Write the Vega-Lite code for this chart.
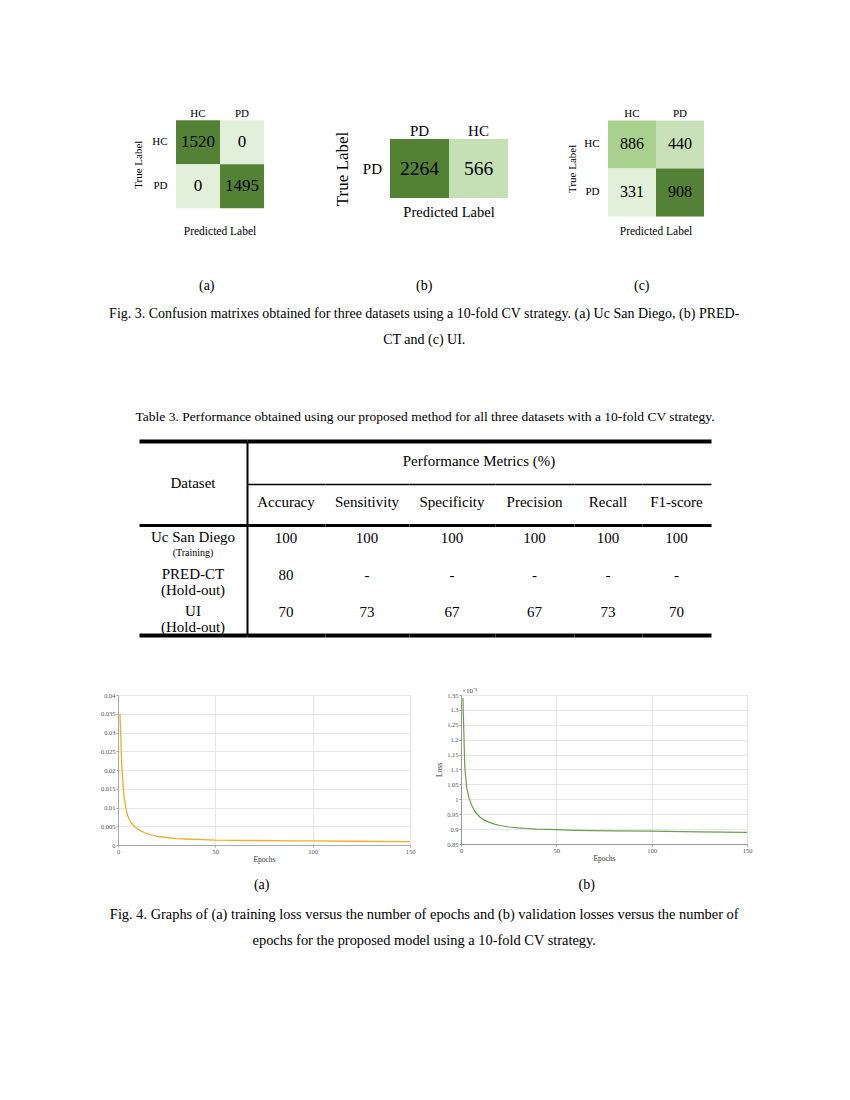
{
  "$schema": "https://vega.github.io/schema/vega-lite/v6.json",
  "background": "white",
  "padding": {"left": 99, "top": 107, "right": 5, "bottom": 5},
  "config": {
    "font": "Liberation Serif",
    "view": {"stroke": null},
    "axis": {"labelFont": "Liberation Serif", "titleFont": "Liberation Serif", "labelColor": "#000", "titleColor": "#000", "titleFontWeight": "normal"},
    "title": {"font": "Liberation Serif", "fontWeight": "normal", "color": "#000"},
    "text": {"font": "Liberation Serif", "color": "#000"}
  },
  "datasets": {
    "scores": [
      {"dataset": "Uc San Diego", "metric": "Accuracy", "value": "100"},
      {"dataset": "Uc San Diego", "metric": "Sensitivity", "value": "100"},
      {"dataset": "Uc San Diego", "metric": "Specificity", "value": "100"},
      {"dataset": "Uc San Diego", "metric": "Precision", "value": "100"},
      {"dataset": "Uc San Diego", "metric": "Recall", "value": "100"},
      {"dataset": "Uc San Diego", "metric": "F1-score", "value": "100"},
      {"dataset": "PRED-CT", "metric": "Accuracy", "value": "80"},
      {"dataset": "PRED-CT", "metric": "Sensitivity", "value": "-"},
      {"dataset": "PRED-CT", "metric": "Specificity", "value": "-"},
      {"dataset": "PRED-CT", "metric": "Precision", "value": "-"},
      {"dataset": "PRED-CT", "metric": "Recall", "value": "-"},
      {"dataset": "PRED-CT", "metric": "F1-score", "value": "-"},
      {"dataset": "UI", "metric": "Accuracy", "value": "70"},
      {"dataset": "UI", "metric": "Sensitivity", "value": "73"},
      {"dataset": "UI", "metric": "Specificity", "value": "67"},
      {"dataset": "UI", "metric": "Precision", "value": "67"},
      {"dataset": "UI", "metric": "Recall", "value": "73"},
      {"dataset": "UI", "metric": "F1-score", "value": "70"}
    ]
  },
  "spacing": 51,
  "vconcat": [
    {
      "spacing": 62,
      "vconcat": [
        {
          "spacing": 40,
          "vconcat": [
            {
              "spacing": 0,
              "hconcat": [
                {"width": 13.7, "height": 1, "data": {"values": []}, "mark": "text"},
                {
                  "spacing": 69,
                  "center": true,
                  "resolve": {"scale": {"color": "independent"}, "legend": {"color": "independent"}},
                  "hconcat": [
                    {
                      "width": 88, "height": 88,
                      "title": {"text": "Predicted Label", "orient": "bottom", "fontSize": 11.5, "offset": 18, "frame": "group", "anchor": "middle"},
                      "data": {"values": [
                        {"actual": "HC", "predicted": "HC", "count": 1520},
                        {"actual": "HC", "predicted": "PD", "count": 0},
                        {"actual": "PD", "predicted": "HC", "count": 0},
                        {"actual": "PD", "predicted": "PD", "count": 1495}
                      ]},
                      "encoding": {
                        "x": {"field": "predicted", "type": "nominal", "sort": ["HC", "PD"], "scale": {"paddingInner": 0, "paddingOuter": 0},
                          "axis": {"orient": "top", "title": null, "labelAngle": 0, "labelFontSize": 11, "labelPadding": 2, "ticks": false, "domain": false}},
                        "y": {"field": "actual", "type": "nominal", "sort": ["HC", "PD"], "scale": {"paddingInner": 0, "paddingOuter": 0},
                          "axis": {"title": "True Label", "titleFontSize": 11, "labelFontSize": 11, "labelPadding": 9, "titlePadding": 8, "ticks": false, "domain": false}}
                      },
                      "layer": [
                        {"mark": "rect", "encoding": {"color": {"field": "count", "type": "quantitative", "scale": {"type": "threshold", "domain": [500], "range": ["#e2efda", "#548235"]}, "legend": null}}},
                        {"mark": {"type": "text", "fontSize": 17}, "encoding": {"text": {"field": "count", "type": "quantitative", "format": "d"}}}
                      ]
                    },
                    {
                      "spacing": 58,
                      "center": true,
                      "resolve": {"scale": {"color": "independent"}, "legend": {"color": "independent"}},
                      "hconcat": [
                        {
                          "width": 118, "height": 59,
                          "title": {"text": "Predicted Label", "orient": "bottom", "fontSize": 14.5, "offset": 0, "frame": "group", "anchor": "middle"},
                          "data": {"values": [
                            {"actual": "PD", "predicted": "PD", "count": 2264},
                            {"actual": "PD", "predicted": "HC", "count": 566}
                          ]},
                          "encoding": {
                            "x": {"field": "predicted", "type": "nominal", "sort": ["PD", "HC"], "scale": {"paddingInner": 0, "paddingOuter": 0},
                              "axis": {"orient": "top", "title": null, "labelAngle": 0, "labelFontSize": 15, "labelPadding": 1, "ticks": false, "domain": false}},
                            "y": {"field": "actual", "type": "nominal", "sort": ["PD"], "scale": {"paddingInner": 0, "paddingOuter": 0},
                              "axis": {"title": "True Label", "titleFontSize": 17, "labelFontSize": 15, "labelPadding": 8.5, "titlePadding": 11, "ticks": false, "domain": false}}
                          },
                          "layer": [
                            {"mark": "rect", "encoding": {"color": {"field": "count", "type": "quantitative", "scale": {"type": "threshold", "domain": [1000], "range": ["#c5e0b4", "#548235"]}, "legend": null}}},
                            {"mark": {"type": "text", "fontSize": 19.5}, "encoding": {"text": {"field": "count", "type": "quantitative", "format": "d"}}}
                          ]
                        },
                        {
                          "width": 96, "height": 96,
                          "title": {"text": "Predicted Label", "orient": "bottom", "fontSize": 11.5, "offset": 10, "frame": "group", "anchor": "middle"},
                          "data": {"values": [
                            {"actual": "HC", "predicted": "HC", "count": 886},
                            {"actual": "HC", "predicted": "PD", "count": 440},
                            {"actual": "PD", "predicted": "HC", "count": 331},
                            {"actual": "PD", "predicted": "PD", "count": 908}
                          ]},
                          "encoding": {
                            "x": {"field": "predicted", "type": "nominal", "sort": ["HC", "PD"], "scale": {"paddingInner": 0, "paddingOuter": 0},
                              "axis": {"orient": "top", "title": null, "labelAngle": 0, "labelFontSize": 11, "labelPadding": 2, "ticks": false, "domain": false}},
                            "y": {"field": "actual", "type": "nominal", "sort": ["HC", "PD"], "scale": {"paddingInner": 0, "paddingOuter": 0},
                              "axis": {"title": "True Label", "titleFontSize": 11, "labelFontSize": 11, "labelPadding": 9, "titlePadding": 6.5, "ticks": false, "domain": false}}
                          },
                          "layer": [
                            {"mark": "rect", "encoding": {"color": {"field": "count", "type": "quantitative", "scale": {"type": "threshold", "domain": [400, 600, 900], "range": ["#e2efda", "#c8e1b8", "#a9d18e", "#548235"]}, "legend": null}}},
                            {"mark": {"type": "text", "fontSize": 16}, "encoding": {"text": {"field": "count", "type": "quantitative", "format": "d"}}}
                          ]
                        }
                      ]
                    }
                  ]
                }
              ]
            },
            {
              "width": 612.5, "height": 16,
              "data": {"values": [{"panel": "(a)"}, {"panel": "(b)"}, {"panel": "(c)"}]},
              "mark": {"type": "text", "fontSize": 14},
              "encoding": {
                "x": {"field": "panel", "type": "nominal", "scale": {"padding": 0.408}, "axis": null},
                "text": {"field": "panel", "type": "nominal"}
              },
              "title": {"text": ["Fig. 3. Confusion matrixes obtained for three datasets using a 10-fold CV strategy. (a) Uc San Diego, (b) PRED-", "CT and (c) UI."], "orient": "bottom", "fontSize": 14, "lineHeight": 26, "offset": 13, "anchor": "middle", "frame": "group"}
            }
          ]
        },
        {
          "spacing": 0,
          "hconcat": [
            {"width": 17, "height": 1, "data": {"values": []}, "mark": "text"},
            {
              "title": {"text": "Table 3. Performance obtained using our proposed method for all three datasets with a 10-fold CV strategy.", "fontSize": 13.5, "offset": 18, "anchor": "middle"},
              "spacing": 0,
              "hconcat": [
                {
                  "spacing": 0,
                  "vconcat": [
                    {
                      "width": 108, "height": 84,
                      "data": {"values": [{"column": "Dataset"}]},
                      "mark": {"type": "text", "fontSize": 15},
                      "encoding": {
                        "x": {"field": "column", "type": "nominal", "axis": {"orient": "top", "title": null, "labels": false, "ticks": false, "domain": true, "domainColor": "#000", "domainWidth": 4}},
                        "text": {"field": "column", "type": "nominal"}
                      }
                    },
                    {
                      "width": 108, "height": 110,
                      "data": {"values": [
                        {"dataset": "Uc San Diego", "split": "(Training)"},
                        {"dataset": "PRED-CT", "split": "(Hold-out)"},
                        {"dataset": "UI", "split": "(Hold-out)"}
                      ]},
                      "encoding": {
                        "x": {"datum": "Dataset", "type": "nominal", "axis": {"orient": "bottom", "title": null, "labels": false, "ticks": false, "domain": true, "domainColor": "#000", "domainWidth": 4}},
                        "y": {"field": "dataset", "type": "nominal", "sort": ["Uc San Diego", "PRED-CT", "UI"], "scale": {"type": "band", "paddingInner": 0, "paddingOuter": 0},
                          "axis": {"title": null, "labels": false, "ticks": false, "domain": false, "grid": true, "values": ["Uc San Diego"], "bandPosition": 0, "gridColor": "#000", "gridWidth": 3}}
                      },
                      "layer": [
                        {"mark": {"type": "text", "fontSize": 15, "dy": -6}, "encoding": {"text": {"field": "dataset", "type": "nominal"}}},
                        {"mark": {"type": "text", "dy": 10}, "encoding": {
                          "text": {"field": "split", "type": "nominal"},
                          "size": {"field": "split", "type": "ordinal", "scale": {"domain": ["(Training)", "(Hold-out)"], "range": [10, 15]}, "legend": null}
                        }}
                      ]
                    }
                  ]
                },
                {
                  "spacing": 0,
                  "vconcat": [
                    {
                      "width": 464, "height": 43,
                      "data": {"values": [{"label": "Performance Metrics (%)"}]},
                      "mark": {"type": "text", "fontSize": 15, "dy": -2},
                      "encoding": {
                        "x": {"datum": "pm", "type": "nominal", "axis": {"orient": "top", "title": null, "labels": false, "ticks": false, "domain": true, "domainColor": "#000", "domainWidth": 4}},
                        "y": {"datum": "pm", "type": "nominal", "axis": {"title": null, "labels": false, "ticks": false, "domain": true, "domainColor": "#000", "domainWidth": 2}},
                        "text": {"field": "label", "type": "nominal"}
                      }
                    },
                    {
                      "spacing": 0,
                      "hconcat": [
                        {
                          "width": 78, "height": 41,
                          "data": {"values": [{"metric": "Accuracy"}]},
                          "mark": {"type": "text", "fontSize": 15, "dy": -3},
                          "encoding": {
                            "x": {"field": "metric", "type": "nominal", "axis": {"orient": "top", "title": null, "labels": false, "ticks": false, "domain": true, "domainColor": "#000", "domainWidth": 1.5}},
                            "y": {"datum": "hdr", "type": "nominal", "axis": {"title": null, "labels": false, "ticks": false, "domain": true, "domainColor": "#000", "domainWidth": 2}},
                            "text": {"field": "metric", "type": "nominal"}
                          }
                        },
                        {
                          "width": 84, "height": 41,
                          "data": {"values": [{"metric": "Sensitivity"}]},
                          "mark": {"type": "text", "fontSize": 15, "dy": -3},
                          "encoding": {
                            "x": {"field": "metric", "type": "nominal", "axis": {"orient": "top", "title": null, "labels": false, "ticks": false, "domain": true, "domainColor": "#000", "domainWidth": 1.5}},
                            "text": {"field": "metric", "type": "nominal"}
                          }
                        },
                        {
                          "width": 86, "height": 41,
                          "data": {"values": [{"metric": "Specificity"}]},
                          "mark": {"type": "text", "fontSize": 15, "dy": -3},
                          "encoding": {
                            "x": {"field": "metric", "type": "nominal", "axis": {"orient": "top", "title": null, "labels": false, "ticks": false, "domain": true, "domainColor": "#000", "domainWidth": 1.5}},
                            "text": {"field": "metric", "type": "nominal"}
                          }
                        },
                        {
                          "width": 79, "height": 41,
                          "data": {"values": [{"metric": "Precision"}]},
                          "mark": {"type": "text", "fontSize": 15, "dy": -3},
                          "encoding": {
                            "x": {"field": "metric", "type": "nominal", "axis": {"orient": "top", "title": null, "labels": false, "ticks": false, "domain": true, "domainColor": "#000", "domainWidth": 1.5}},
                            "text": {"field": "metric", "type": "nominal"}
                          }
                        },
                        {
                          "width": 68, "height": 41,
                          "data": {"values": [{"metric": "Recall"}]},
                          "mark": {"type": "text", "fontSize": 15, "dy": -3},
                          "encoding": {
                            "x": {"field": "metric", "type": "nominal", "axis": {"orient": "top", "title": null, "labels": false, "ticks": false, "domain": true, "domainColor": "#000", "domainWidth": 1.5}},
                            "text": {"field": "metric", "type": "nominal"}
                          }
                        },
                        {
                          "width": 69, "height": 41,
                          "data": {"values": [{"metric": "F1-score"}]},
                          "mark": {"type": "text", "fontSize": 15, "dy": -3},
                          "encoding": {
                            "x": {"field": "metric", "type": "nominal", "axis": {"orient": "top", "title": null, "labels": false, "ticks": false, "domain": true, "domainColor": "#000", "domainWidth": 1.5}},
                            "text": {"field": "metric", "type": "nominal"}
                          }
                        }
                      ]
                    },
                    {
                      "spacing": 0,
                      "hconcat": [
                        {
                          "width": 78, "height": 110,
                          "data": {"name": "scores"},
                          "transform": [{"filter": "datum.metric === 'Accuracy'"}],
                          "mark": {"type": "text", "fontSize": 15, "dy": -5},
                          "encoding": {
                            "x": {"field": "metric", "type": "nominal", "axis": {"orient": "bottom", "title": null, "labels": false, "ticks": false, "domain": true, "domainColor": "#000", "domainWidth": 4}},
                            "y": {"field": "dataset", "type": "nominal", "sort": ["Uc San Diego", "PRED-CT", "UI"], "scale": {"type": "band", "paddingInner": 0, "paddingOuter": 0},
                              "axis": {"title": null, "labels": false, "ticks": false, "domain": true, "domainColor": "#000", "domainWidth": 2, "grid": true, "values": ["Uc San Diego"], "bandPosition": 0, "gridColor": "#000", "gridWidth": 3}},
                            "text": {"field": "value", "type": "nominal"}
                          }
                        },
                        {
                          "width": 84, "height": 110,
                          "data": {"name": "scores"},
                          "transform": [{"filter": "datum.metric === 'Sensitivity'"}],
                          "mark": {"type": "text", "fontSize": 15, "dy": -5},
                          "encoding": {
                            "x": {"field": "metric", "type": "nominal", "axis": {"orient": "bottom", "title": null, "labels": false, "ticks": false, "domain": true, "domainColor": "#000", "domainWidth": 4}},
                            "y": {"field": "dataset", "type": "nominal", "sort": ["Uc San Diego", "PRED-CT", "UI"], "scale": {"type": "band", "paddingInner": 0, "paddingOuter": 0},
                              "axis": {"title": null, "labels": false, "ticks": false, "domain": false, "grid": true, "values": ["Uc San Diego"], "bandPosition": 0, "gridColor": "#000", "gridWidth": 3}},
                            "text": {"field": "value", "type": "nominal"}
                          }
                        },
                        {
                          "width": 86, "height": 110,
                          "data": {"name": "scores"},
                          "transform": [{"filter": "datum.metric === 'Specificity'"}],
                          "mark": {"type": "text", "fontSize": 15, "dy": -5},
                          "encoding": {
                            "x": {"field": "metric", "type": "nominal", "axis": {"orient": "bottom", "title": null, "labels": false, "ticks": false, "domain": true, "domainColor": "#000", "domainWidth": 4}},
                            "y": {"field": "dataset", "type": "nominal", "sort": ["Uc San Diego", "PRED-CT", "UI"], "scale": {"type": "band", "paddingInner": 0, "paddingOuter": 0},
                              "axis": {"title": null, "labels": false, "ticks": false, "domain": false, "grid": true, "values": ["Uc San Diego"], "bandPosition": 0, "gridColor": "#000", "gridWidth": 3}},
                            "text": {"field": "value", "type": "nominal"}
                          }
                        },
                        {
                          "width": 79, "height": 110,
                          "data": {"name": "scores"},
                          "transform": [{"filter": "datum.metric === 'Precision'"}],
                          "mark": {"type": "text", "fontSize": 15, "dy": -5},
                          "encoding": {
                            "x": {"field": "metric", "type": "nominal", "axis": {"orient": "bottom", "title": null, "labels": false, "ticks": false, "domain": true, "domainColor": "#000", "domainWidth": 4}},
                            "y": {"field": "dataset", "type": "nominal", "sort": ["Uc San Diego", "PRED-CT", "UI"], "scale": {"type": "band", "paddingInner": 0, "paddingOuter": 0},
                              "axis": {"title": null, "labels": false, "ticks": false, "domain": false, "grid": true, "values": ["Uc San Diego"], "bandPosition": 0, "gridColor": "#000", "gridWidth": 3}},
                            "text": {"field": "value", "type": "nominal"}
                          }
                        },
                        {
                          "width": 68, "height": 110,
                          "data": {"name": "scores"},
                          "transform": [{"filter": "datum.metric === 'Recall'"}],
                          "mark": {"type": "text", "fontSize": 15, "dy": -5},
                          "encoding": {
                            "x": {"field": "metric", "type": "nominal", "axis": {"orient": "bottom", "title": null, "labels": false, "ticks": false, "domain": true, "domainColor": "#000", "domainWidth": 4}},
                            "y": {"field": "dataset", "type": "nominal", "sort": ["Uc San Diego", "PRED-CT", "UI"], "scale": {"type": "band", "paddingInner": 0, "paddingOuter": 0},
                              "axis": {"title": null, "labels": false, "ticks": false, "domain": false, "grid": true, "values": ["Uc San Diego"], "bandPosition": 0, "gridColor": "#000", "gridWidth": 3}},
                            "text": {"field": "value", "type": "nominal"}
                          }
                        },
                        {
                          "width": 69, "height": 110,
                          "data": {"name": "scores"},
                          "transform": [{"filter": "datum.metric === 'F1-score'"}],
                          "mark": {"type": "text", "fontSize": 15, "dy": -5},
                          "encoding": {
                            "x": {"field": "metric", "type": "nominal", "axis": {"orient": "bottom", "title": null, "labels": false, "ticks": false, "domain": true, "domainColor": "#000", "domainWidth": 4}},
                            "y": {"field": "dataset", "type": "nominal", "sort": ["Uc San Diego", "PRED-CT", "UI"], "scale": {"type": "band", "paddingInner": 0, "paddingOuter": 0},
                              "axis": {"title": null, "labels": false, "ticks": false, "domain": false, "grid": true, "values": ["Uc San Diego"], "bandPosition": 0, "gridColor": "#000", "gridWidth": 3}},
                            "text": {"field": "value", "type": "nominal"}
                          }
                        }
                      ]
                    }
                  ]
                }
              ]
            }
          ]
        }
      ]
    },
    {
      "spacing": 13,
      "vconcat": [
        {
          "spacing": 19,
          "hconcat": [
            {
              "width": 292, "height": 150,
              "view": {"stroke": "#cccccc"},
              "data": {"values": [
                {"epoch": 1, "loss": 0.035}, {"epoch": 2, "loss": 0.0205}, {"epoch": 3, "loss": 0.0135},
                {"epoch": 4, "loss": 0.0098}, {"epoch": 5, "loss": 0.0078}, {"epoch": 6, "loss": 0.0066},
                {"epoch": 7, "loss": 0.0058}, {"epoch": 8, "loss": 0.0052}, {"epoch": 9, "loss": 0.0047},
                {"epoch": 10, "loss": 0.0043}, {"epoch": 12, "loss": 0.0037}, {"epoch": 14, "loss": 0.0032},
                {"epoch": 16, "loss": 0.0029}, {"epoch": 18, "loss": 0.0026}, {"epoch": 20, "loss": 0.0023},
                {"epoch": 25, "loss": 0.002}, {"epoch": 30, "loss": 0.0017}, {"epoch": 35, "loss": 0.0016},
                {"epoch": 40, "loss": 0.0015}, {"epoch": 50, "loss": 0.0013}, {"epoch": 60, "loss": 0.00125},
                {"epoch": 70, "loss": 0.0012}, {"epoch": 80, "loss": 0.00115}, {"epoch": 90, "loss": 0.0011},
                {"epoch": 100, "loss": 0.0011}, {"epoch": 120, "loss": 0.001}, {"epoch": 150, "loss": 0.0009}
              ]},
              "mark": {"type": "line", "color": "#EDB120", "strokeWidth": 1.3},
              "encoding": {
                "x": {"field": "epoch", "type": "quantitative", "scale": {"domain": [0, 150], "nice": false},
                  "axis": {"values": [0, 50, 100, 150], "title": "Epochs", "titleFontSize": 7.5, "titleColor": "#333", "labelFontSize": 6.5, "labelColor": "#555", "labelFlush": false, "grid": true, "gridColor": "#e6e6e6", "domainColor": "#aaa", "tickColor": "#aaa", "tickSize": 2, "labelPadding": 1, "titlePadding": 1}},
                "y": {"field": "loss", "type": "quantitative", "scale": {"domain": [0, 0.04], "nice": false},
                  "axis": {"values": [0, 0.005, 0.01, 0.015, 0.02, 0.025, 0.03, 0.035, 0.04], "format": ".3~f", "title": null, "labelFontSize": 6.5, "labelColor": "#555", "labelFlush": false, "grid": true, "gridColor": "#e6e6e6", "domainColor": "#aaa", "tickColor": "#aaa", "tickSize": 2, "labelPadding": 1}}
              }
            },
            {
              "width": 286, "height": 149,
              "view": {"stroke": "#999999"},
              "encoding": {
                "x": {"field": "epoch", "type": "quantitative", "scale": {"domain": [0, 150], "nice": false},
                  "axis": {"values": [0, 50, 100, 150], "title": "Epochs", "titleFontSize": 7.5, "titleColor": "#333", "labelFontSize": 6.5, "labelColor": "#555", "labelFlush": false, "grid": true, "gridColor": "#e6e6e6", "domainColor": "#999", "tickColor": "#999", "tickSize": 2, "labelPadding": 1, "titlePadding": 1}},
                "y": {"field": "loss", "type": "quantitative", "scale": {"domain": [0.85, 1.35], "nice": false, "zero": false},
                  "axis": {"values": [0.85, 0.9, 0.95, 1, 1.05, 1.1, 1.15, 1.2, 1.25, 1.3, 1.35], "format": ".2~f", "title": "Loss", "titleFontSize": 7.5, "titleColor": "#333", "titlePadding": 3, "labelFontSize": 6.5, "labelColor": "#555", "labelFlush": false, "grid": true, "gridColor": "#e6e6e6", "domainColor": "#999", "tickColor": "#999", "tickSize": 2, "labelPadding": 1}}
              },
              "layer": [
                {
                  "data": {"values": [
                    {"epoch": 1, "loss": 1.34}, {"epoch": 2, "loss": 1.105}, {"epoch": 3, "loss": 1.04},
                    {"epoch": 4, "loss": 1.008}, {"epoch": 5, "loss": 0.99}, {"epoch": 6, "loss": 0.975},
                    {"epoch": 7, "loss": 0.963}, {"epoch": 8, "loss": 0.954}, {"epoch": 10, "loss": 0.94},
                    {"epoch": 12, "loss": 0.931}, {"epoch": 14, "loss": 0.925}, {"epoch": 16, "loss": 0.92},
                    {"epoch": 18, "loss": 0.916}, {"epoch": 20, "loss": 0.913}, {"epoch": 25, "loss": 0.907},
                    {"epoch": 30, "loss": 0.904}, {"epoch": 35, "loss": 0.902}, {"epoch": 40, "loss": 0.9},
                    {"epoch": 50, "loss": 0.898}, {"epoch": 60, "loss": 0.896}, {"epoch": 70, "loss": 0.895},
                    {"epoch": 80, "loss": 0.894}, {"epoch": 100, "loss": 0.893}, {"epoch": 125, "loss": 0.891},
                    {"epoch": 150, "loss": 0.889}
                  ]},
                  "mark": {"type": "line", "color": "#6a9f4a", "strokeWidth": 1.2}
                },
                {
                  "data": {"values": [{"epoch": 0, "loss": 1.35, "note": "×10⁻³"}]},
                  "mark": {"type": "text", "fontSize": 7, "align": "left", "baseline": "bottom", "dx": 1, "dy": -1, "color": "#444"},
                  "encoding": {"text": {"field": "note", "type": "nominal"}}
                }
              ]
            }
          ]
        },
        {
          "width": 612.4, "height": 16,
          "data": {"values": [{"panel": "(a)"}, {"panel": "(b)"}]},
          "mark": {"type": "text", "fontSize": 14},
          "encoding": {
            "x": {"field": "panel", "type": "nominal", "scale": {"padding": 0.442}, "axis": null},
            "text": {"field": "panel", "type": "nominal"}
          },
          "title": {"text": ["Fig. 4. Graphs of (a) training loss versus the number of epochs and (b) validation losses versus the number of", "epochs for the proposed model using a 10-fold CV strategy."], "orient": "bottom", "fontSize": 14.4, "lineHeight": 26, "offset": 15, "anchor": "middle", "frame": "group"}
        }
      ]
    }
  ]
}
